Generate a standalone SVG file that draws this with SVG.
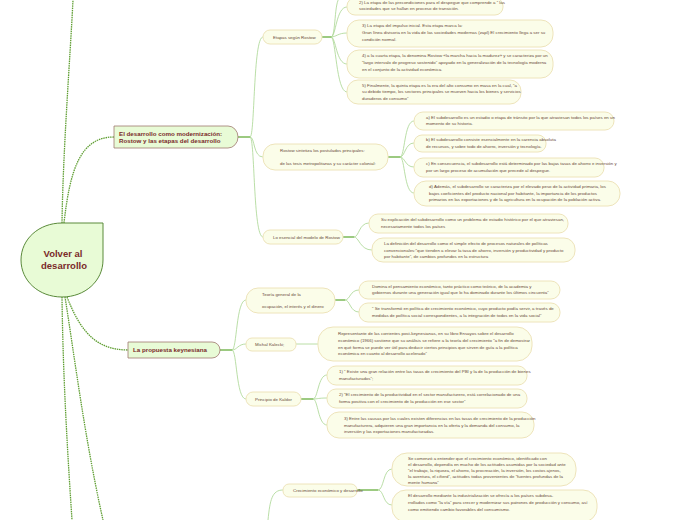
<svg xmlns="http://www.w3.org/2000/svg" width="697" height="520" viewBox="0 0 697 520">
<style>
.b{fill:#fbfde9;stroke:#eee4bb;stroke-width:1}
.t{font-family:"Liberation Sans",Arial,sans-serif;font-size:4.4px;fill:#6a4a3a}
.m{font-family:"Liberation Sans",Arial,sans-serif;font-size:6.2px;font-weight:bold;fill:#7a2a2a}
.r{font-family:"Liberation Sans",Arial,sans-serif;font-size:9.5px;font-weight:bold;fill:#7a2a2a}
.c{fill:none;stroke:#a8d590;stroke-width:0.8}
.h{fill:none;stroke:#7bb957;stroke-width:1.5}
.d{fill:none;stroke:#5f9e32;stroke-width:1.3;stroke-dasharray:1.5 0.8}
.n{fill:#e8fbd6;stroke:#a07870;stroke-width:0.8}
</style>
<g id="connectors">
<path class="d" d="M62,223 C63,150 70,60 73,0"/>
<path class="d" d="M64,223 C70,170 80,137 114,137"/>
<path class="d" d="M62,297 C63,380 68,460 72,520"/>
<path class="d" d="M65,297 C75,360 85,440 103,520"/>
<path class="d" d="M67,297 C80,330 95,350 128,350"/>
<path class="h" d="M238,137 H250"/>
<path class="c" d="M250,137 C255,137 253,37 263,37 M250,137 C255,137 253,157 263,157 M250,137 C255,137 253,237 263,237"/>
<path class="h" d="M322,37 H331"/>
<path class="c" d="M331,37 C336,37 334,0 340,-2 M331,37 C336,37 336,7 347,7 M331,37 C336,37 338,33 347,33 M331,37 C336,37 336,64 347,64 M331,37 C336,37 336,92 347,92"/>
<path class="h" d="M388,157 H400"/>
<path class="c" d="M400,157 C405,157 404,121 414,121 M400,157 C405,157 405,143 414,143 M400,157 C405,157 405,167 414,167 M400,157 C405,157 404,193 414,193"/>
<path class="h" d="M343,237 H354"/>
<path class="c" d="M354,237 C359,237 359,223 369,223 M354,237 C359,237 360,250 372,250"/>
<path class="h" d="M220,350 H232"/>
<path class="c" d="M232,350 C237,350 236,300 246,300 M232,350 C237,350 238,344 246,344 M232,350 C237,350 236,399 246,399"/>
<path class="h" d="M335,300 H345"/>
<path class="c" d="M345,300 C350,300 350,290 359,290 M345,300 C350,300 350,312 359,312"/>
<path class="c" d="M296,344 H318"/>
<path class="h" d="M301,399 H313"/>
<path class="c" d="M313,399 C318,399 318,375 327,375 M313,399 C318,399 318,398 327,398 M313,399 C318,399 318,425 327,425"/>
<path class="c" d="M268,520 C270,500 272,490 283,490"/>
<path class="h" d="M357,490 H378"/>
<path class="c" d="M378,490 C384,490 383,469 392,469 M378,490 C384,490 383,505 392,505"/>
</g>
<g id="root">
<path d="M103,223 V260 C103,281 85,297 62,297 C39,297 21,281 21,260 C21,239 39,223 62,223 Z" fill="#e8fbd6" stroke="#5a8a3a" stroke-width="1"/>
<text class="r" x="63" y="257" text-anchor="middle">Volver al</text>
<text class="r" x="64" y="269" text-anchor="middle">desarrollo</text>
</g>
<g id="n1"><path class="n" d="M114,126 H228 A10,11 0 0 1 228,148 H114 Z"/>
<text class="m" x="119" y="136">El desarrollo como modernización:</text>
<text class="m" x="119" y="143">Rostow y las etapas del desarrollo</text></g>
<g id="n2"><path class="n" d="M128,342 H212 A8,8 0 0 1 212,358 H128 Z"/>
<text class="m" x="133" y="352">La propuesta keynesiana</text></g>
<g id="etapas"><rect class="b" x="263" y="30" width="59" height="14" rx="7"/><text class="t" x="273" y="39">Etapas según Rostow</text></g>
<g id="e2"><rect class="b" x="347" y="-2" width="156" height="17" rx="8"/><text class="t" x="359" y="4">2) La etapa de las precondiciones para el despegue que comprende a “ las</text><text class="t" x="359" y="10">sociedades que se hallan en proceso de transición.</text></g>
<g id="e3"><rect class="b" x="347" y="20" width="206" height="27" rx="12"/><text class="t" x="362" y="27">3) La etapa del impulso inicial. Esta etapa marca la:</text><text class="t" x="362" y="34">Gran línea divisoria en la vida de las sociedades modernas (zapl) El crecimiento llega a ser su</text><text class="t" x="362" y="41">condición normal.</text></g>
<g id="e4"><rect class="b" x="347" y="50" width="206" height="28" rx="12"/><text class="t" x="362" y="57">4) a la cuarta etapa, la denomina Rostow «la marcha hacia la madurez» y se caracteriza por un</text><text class="t" x="362" y="64">“largo intervalo de progreso sostenido” apoyado en la generalización de la tecnología moderna</text><text class="t" x="362" y="71">en el conjunto de la actividad económica.</text></g>
<g id="e5"><rect class="b" x="347" y="80" width="174" height="24" rx="11"/><text class="t" x="362" y="87">5) Finalmente, la quinta etapa es la era del alto consumo en masa en la cual, “a</text><text class="t" x="362" y="93">su debido tiempo, los sectores principales se mueven hacia los bienes y servicios</text><text class="t" x="362" y="100">duraderos de consumo”</text></g>
<g id="sint"><rect class="b" x="263" y="144" width="125" height="26" rx="12"/><text class="t" x="280" y="152">Rostow sintetiza los postulados principales:</text><text class="t" x="280" y="165">de las tesis metropolitanas y su carácter colonial:</text></g>
<g id="sa"><rect class="b" x="414" y="112" width="200" height="18" rx="9"/><text class="t" x="426" y="119">a) El subdesarrollo es un estadio o etapa de tránsito por la que atraviesan todos los países en un</text><text class="t" x="426" y="125">momento de su historia.</text></g>
<g id="sb"><rect class="b" x="414" y="135" width="132" height="17" rx="8"/><text class="t" x="426" y="141">b) El subdesarrollo consiste esencialmente en la carencia absoluta</text><text class="t" x="426" y="148">de recursos, y sobre todo de ahorro, inversión y tecnología.</text></g>
<g id="sc"><rect class="b" x="414" y="158" width="190" height="19" rx="9"/><text class="t" x="426" y="165">c) En consecuencia, el subdesarrollo está determinado por las bajas tasas de ahorro e inversión y</text><text class="t" x="426" y="172">por un largo proceso de acumulación que precede al despegue.</text></g>
<g id="sd"><rect class="b" x="414" y="181" width="206" height="25" rx="12"/><text class="t" x="429" y="188">d) Además, el subdesarrollo se caracteriza por el elevado peso de la actividad primaria, los</text><text class="t" x="429" y="195">bajos coeficientes del producto nacional por habitante, la importancia de los productos</text><text class="t" x="429" y="201">primarios en las exportaciones y de la agricultura en la ocupación de la población activa.</text></g>
<g id="esen"><rect class="b" x="263" y="230" width="80" height="14" rx="7"/><text class="t" x="273" y="239">Lo esencial del modelo de Rostow</text></g>
<g id="l1"><rect class="b" x="369" y="214" width="199" height="19" rx="9"/><text class="t" x="381" y="221">Su explicación del subdesarrollo como un problema de estadio histórico por el que atraviesan,</text><text class="t" x="381" y="228">necesariamente todos los países</text></g>
<g id="l2"><rect class="b" x="372" y="238" width="203" height="24" rx="11"/><text class="t" x="384" y="245">La definición del desarrollo como el simple efecto de procesos naturales de políticas</text><text class="t" x="384" y="252">convencionales:“que tienden a elevar la tasa de ahorro, inversión y productividad y producto</text><text class="t" x="384" y="258">por habitante”, de cambios profundos en la estructura</text></g>
<g id="teoria"><rect class="b" x="246" y="288" width="89" height="25" rx="12"/><text class="t" x="262" y="296">Teoría general de la</text><text class="t" x="262" y="308">ocupación, el interés y el dinero</text></g>
<g id="t1"><rect class="b" x="359" y="281" width="201" height="18" rx="9"/><text class="t" x="372" y="288">Domina el pensamiento económico, tanto práctico como teórico, de la academia y</text><text class="t" x="372" y="294">gobiernos durante una generación igual que lo ha dominado durante los últimos cincuenta”</text></g>
<g id="t2"><rect class="b" x="359" y="303" width="201" height="19" rx="9"/><text class="t" x="372" y="310">“ Se transformó en política de crecimiento económico, cuyo producto podía servir, a través de</text><text class="t" x="372" y="317">medidas de política social correspondientes, a la integración de todos en la vida social”</text></g>
<g id="kalecki"><rect class="b" x="246" y="338" width="50" height="13" rx="6"/><text class="t" x="255" y="346">Michal Kalecki;</text></g>
<g id="k1"><rect class="b" x="318" y="327" width="214" height="34" rx="15"/><text class="t" x="338" y="335">Representante de las corrientes post-keynesianas, en su libro Ensayos sobre el desarrollo</text><text class="t" x="338" y="342">económico (1966) sostiene que su análisis se refiere a la teoría del crecimiento “a fin de demostrar</text><text class="t" x="338" y="349">en qué forma se puede ver útil para deducir ciertos principios que sirven de guía a la política</text><text class="t" x="338" y="355">económica en cuanto al desarrollo acelerado”</text></g>
<g id="kaldor"><rect class="b" x="246" y="392" width="55" height="14" rx="7"/><text class="t" x="255" y="401">Principio de Kaldor</text></g>
<g id="p1"><rect class="b" x="327" y="366" width="200" height="19" rx="9"/><text class="t" x="339" y="373">1) “ Existe una gran relación entre las tasas de crecimiento del PBI y la de la producción de bienes</text><text class="t" x="339" y="380">manufacturados”;</text></g>
<g id="p2"><rect class="b" x="327" y="389" width="200" height="19" rx="9"/><text class="t" x="339" y="396">2) “El crecimiento de la productividad en el sector manufacturero, está correlacionado de una</text><text class="t" x="339" y="403">forma positiva con el crecimiento de la producción en ese sector”</text></g>
<g id="p3"><rect class="b" x="327" y="412" width="207" height="26" rx="12"/><text class="t" x="344" y="420">3) Entre las causas por las cuales existen diferencias en las tasas de crecimiento de la producción</text><text class="t" x="344" y="427">manufacturera, adquieren una gran importancia en la oferta y la demanda del consumo, la</text><text class="t" x="344" y="433">inversión y las exportaciones manufacturadas.</text></g>
<g id="crec"><rect class="b" x="283" y="484" width="74" height="13" rx="6"/><text class="t" x="293" y="492">Crecimiento económico y desarrollo</text></g>
<g id="c1"><rect class="b" x="392" y="453" width="184" height="33" rx="15"/><text class="t" x="408" y="460">Se comenzó a entender que el crecimiento económico, identificado con</text><text class="t" x="408" y="466">el desarrollo, dependía en mucho de los actitudes asumidas por la sociedad ante</text><text class="t" x="408" y="472">“el trabajo, la riqueza, el ahorro, la procreación, la inversión, los costos ajenos,</text><text class="t" x="408" y="478">la aventura, el cifierd”, actitudes todas provenientes de “fuentes profundas de la</text><text class="t" x="408" y="484">mente humana”</text></g>
<g id="c2"><rect class="b" x="392" y="490" width="205" height="32" rx="14"/><text class="t" x="408" y="497">El desarrollo mediante la industrialización se ofrecía a los países subdesa-</text><text class="t" x="408" y="504">rrollados como “la vía” para crecer y modernizar sus patrones de producción y consumo, así</text><text class="t" x="408" y="511">como emitiendo cambio favorables del consumismo.</text></g>
</svg>
